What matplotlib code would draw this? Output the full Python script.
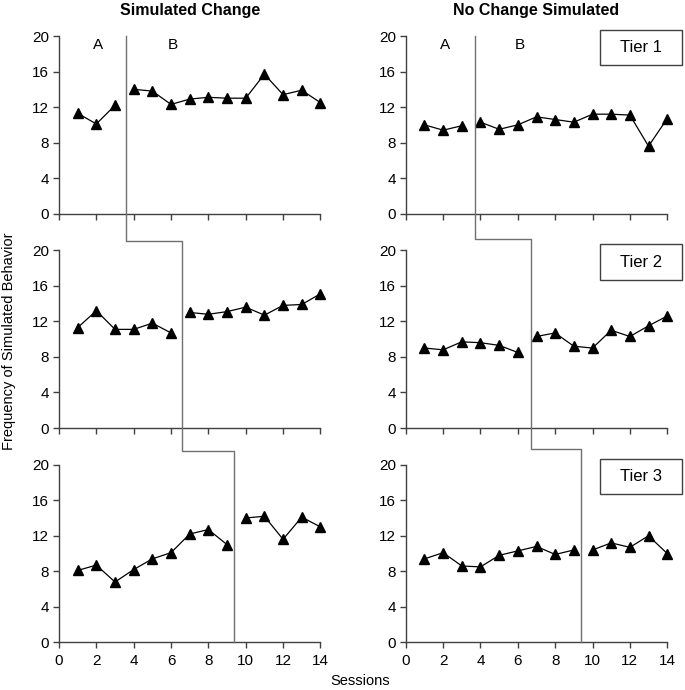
import matplotlib
matplotlib.use("Agg")
import matplotlib.pyplot as plt
from matplotlib.lines import Line2D
from matplotlib.patches import Rectangle

plt.rcParams['font.family'] = ['Liberation Sans', 'DejaVu Sans']

# ---- data ----
sessions = list(range(1, 15))
baseline_len = [3, 6, 9]          # sessions in phase A for tiers 1..3
tier_labels = ["Tier 1", "Tier 2", "Tier 3"]
column_titles = ["Simulated Change", "No Change Simulated"]

change_t1 = [11.3, 10.1, 12.2, 14.0, 13.8, 12.3, 12.9, 13.1, 13.0, 13.0, 15.7, 13.4, 13.9, 12.5]
change_t2 = [11.3, 13.2, 11.1, 11.1, 11.8, 10.7, 13.0, 12.8, 13.1, 13.6, 12.7, 13.8, 13.9, 15.1]
change_t3 = [8.1, 8.7, 6.8, 8.2, 9.4, 10.1, 12.2, 12.7, 11.0, 14.0, 14.2, 11.6, 14.1, 13.0]
nochange_t1 = [10.0, 9.4, 9.9, 10.3, 9.5, 10.0, 10.9, 10.6, 10.3, 11.2, 11.2, 11.1, 7.6, 10.7]
nochange_t2 = [9.0, 8.8, 9.7, 9.6, 9.3, 8.5, 10.3, 10.7, 9.2, 9.0, 11.0, 10.3, 11.5, 12.6]
nochange_t3 = [9.4, 10.1, 8.6, 8.5, 9.8, 10.3, 10.8, 9.9, 10.4, 10.4, 11.2, 10.7, 12.0, 10.0]

# phase-change line x positions (sessions) per column
phase_x_left = [3.57, 6.57, 9.36]
phase_x_right = [3.68, 6.68, 9.38]

series = [[change_t1, nochange_t1], [change_t2, nochange_t2], [change_t3, nochange_t3]]

# ---- layout ----
W, H = 685, 690
fig = plt.figure(figsize=(W / 100, H / 100), dpi=100)
lefts = [59 / W, 405.8 / W]
aw = 261.4 / W
ah = 177.7 / H
tops_px = [36, 250.3, 464.7]

spine_col = '#404040'
axes = [[None, None] for _ in range(3)]
for r in range(3):
    for c in range(2):
        bottom = 1 - (tops_px[r] + 177.7) / H
        ax = fig.add_axes([lefts[c], bottom, aw, ah])
        axes[r][c] = ax
        ax.set_xlim(0, 14)
        ax.set_ylim(0, 20)
        ax.set_yticks([0, 4, 8, 12, 16, 20])
        ax.set_xticks(range(0, 15, 2))
        for s in ['top', 'right']:
            ax.spines[s].set_visible(False)
        for s in ['left', 'bottom']:
            ax.spines[s].set_color(spine_col)
            ax.spines[s].set_linewidth(1.0)
        ax.tick_params(direction='out', length=4, width=1.0, color=spine_col,
                       labelsize=11, pad=3)
        ax.tick_params(axis='x', pad=4.5)
        if r < 2:
            ax.set_xticklabels([])
        ax.patch.set_visible(False)

        vals = series[r][c]
        n = baseline_len[r]
        ax.plot(sessions[:n], vals[:n], color='black', lw=0.9, marker='^',
                ms=7.5, mfc='black', mec='black', clip_on=False, zorder=3)
        ax.plot(sessions[n:], vals[n:], color='black', lw=0.9, marker='^',
                ms=7.5, mfc='black', mec='black', clip_on=False, zorder=3)

        if r == 0:
            ax.text(0.5, 1.118, column_titles[c], transform=ax.transAxes,
                    ha='center', va='baseline', fontsize=11.5, fontweight='bold')
            ax.text(2.1, 19.0, "A", ha='center', va='center', fontsize=11)
            ax.text(6.1, 19.0, "B", ha='center', va='center', fontsize=11)
        if c == 1:
            rect = Rectangle((0.743, 0.834), 0.312, 0.2, transform=ax.transAxes,
                             fill=False, edgecolor=spine_col, lw=1.0, clip_on=False)
            ax.add_patch(rect)
            ax.text(0.743 + 0.156, 0.934, tier_labels[r], transform=ax.transAxes,
                    ha='center', va='center', fontsize=12)

# ---- phase change lines (stepped, across tiers) ----
inv = fig.transFigure.inverted()


def fpt(ax, x, y):
    return inv.transform(ax.transData.transform((x, y)))


gap_y = {0: [21.0, 21.5], 1: [21.27, 21.76]}
for c, px in enumerate([phase_x_left, phase_x_right]):
    a0, a1, a2 = axes[0][c], axes[1][c], axes[2][c]
    pts = [
        fpt(a0, px[0], 20),
        fpt(a1, px[0], gap_y[c][0]),
        fpt(a1, px[1], gap_y[c][0]),
        fpt(a2, px[1], gap_y[c][1]),
        fpt(a2, px[2], gap_y[c][1]),
        fpt(a2, px[2], 0),
    ]
    xs = [p[0] for p in pts]
    ys = [p[1] for p in pts]
    fig.add_artist(Line2D(xs, ys, transform=fig.transFigure, color='#707070', lw=1.0))

# ---- shared labels ----
fig.text(9 / W, 1 - 341 / H, "Frequency of Simulated Behavior", rotation=90,
         ha='center', va='center', fontsize=10.5)
fig.text(360 / W, 1 - 681 / H, "Sessions", ha='center', va='center', fontsize=10.5)

fig.savefig("out.png", dpi=100)
